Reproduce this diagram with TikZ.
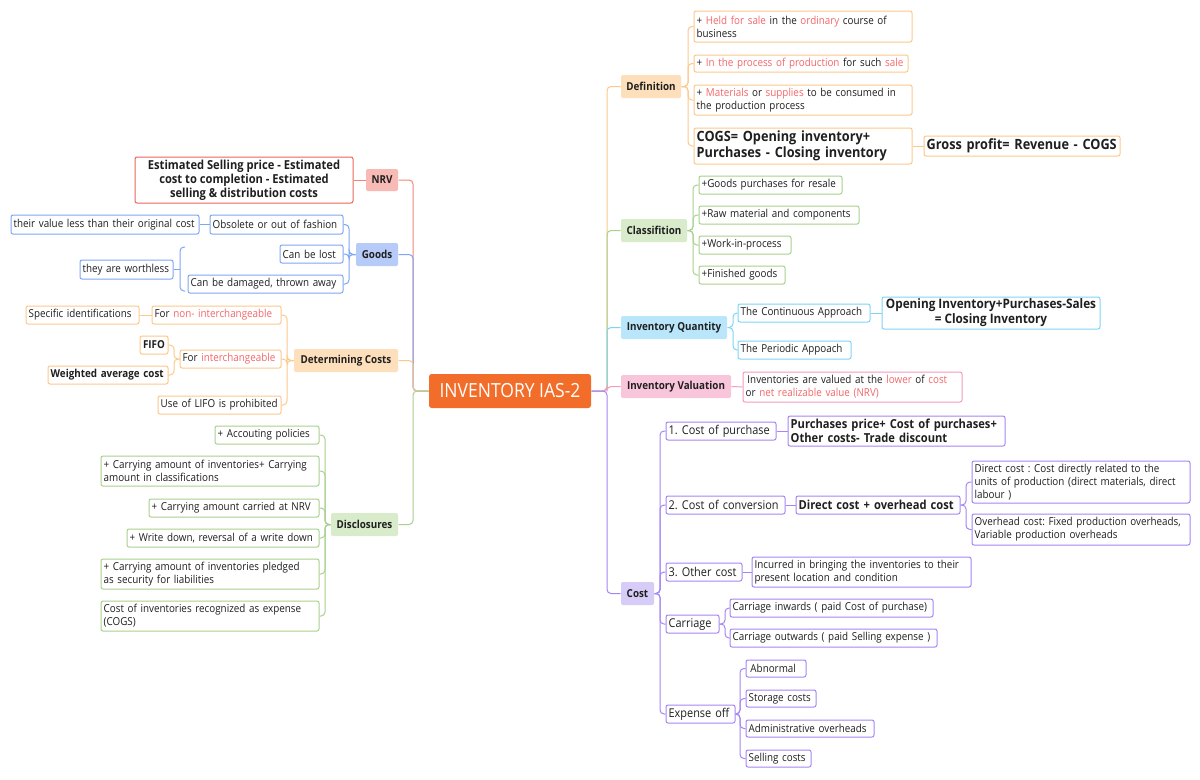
\documentclass[tikz,border=0pt]{standalone}
\usepackage{fontspec}
\setmainfont{Open Sans}[FakeStretch=0.9]
\usetikzlibrary{calc}
\definecolor{txt}{HTML}{1F1F1F}
\definecolor{hlred}{HTML}{F4676A}
\definecolor{ctrF}{HTML}{F26D29}
\definecolor{orL}{HTML}{FCC98C}
\definecolor{orF}{HTML}{FDDFBC}
\definecolor{grL}{HTML}{A9D18E}
\definecolor{grF}{HTML}{D8EBCB}
\definecolor{blL}{HTML}{7ED4F7}
\definecolor{blF}{HTML}{B9E6FA}
\definecolor{pkL}{HTML}{F59BC0}
\definecolor{pkF}{HTML}{F9C5DB}
\definecolor{puL}{HTML}{A686F5}
\definecolor{puF}{HTML}{D6CCF7}
\definecolor{nrL}{HTML}{F0877D}
\definecolor{nrF}{HTML}{F7BAB4}
\definecolor{nrB}{HTML}{E8675D}
\definecolor{goL}{HTML}{7EA6F6}
\definecolor{goF}{HTML}{B7CBF8}
\frenchspacing
\hyphenpenalty=10000
\exhyphenpenalty=10000
\newcommand\hl[1]{\textcolor{hlred}{#1}}
% left-aligned box given by pixel corners
\newcommand\mmn[7]{\node[#6, text width={\dimexpr(#4pt-#2pt)*3/4-4pt\relax}, minimum height={\dimexpr(#5pt-#3pt)*3/4\relax}] (#1) at ({(#2+#4)/2},{(#3+#5)/2}) {#7};}
% centred box given by pixel corners
\newcommand\mmc[7]{\node[#6, align=center, minimum width={\dimexpr(#4pt-#2pt)*3/4\relax}, minimum height={\dimexpr(#5pt-#3pt)*3/4\relax}] (#1) at ({(#2+#4)/2},{(#3+#5)/2}) {#7};}
\tikzset{
  x=0.75pt, y=-0.75pt,
  base/.style={rounded corners=1.5pt, inner xsep=2pt, inner ysep=0.5pt, text=txt, line width=0.75pt, align=left, font=\fontsize{8.2}{9.6}\selectfont},
  lf/.style={base, draw=#1},
  br/.style={base, fill=#1, font=\bfseries\fontsize{8.2}{9.6}\selectfont},
  md/.style={font=\fontsize{9.1}{11}\selectfont},
  bm/.style={font=\bfseries\fontsize{9.3}{10.6}\selectfont},
  bg/.style={font=\bfseries\fontsize{10.6}{12}\selectfont},
  bq/.style={font=\bfseries\fontsize{9.8}{11.2}\selectfont},
  sb/.style={font=\bfseries\fontsize{8.2}{9.6}\selectfont},
  ctrs/.style={base, fill=ctrF, text=white, rounded corners=2pt, font=\fontsize{14.6}{16}\selectfont},
  ln/.style={draw=#1, line width=0.75pt, rounded corners=3pt},
}
\begin{document}
\begin{tikzpicture}
\useasboundingbox[fill=white] (0,0) rectangle (1200,779);
% trunk coordinates
\coordinate (R) at (607,391);
\coordinate (L) at (413,391);
\coordinate (Td) at (688,0);
\coordinate (Tc) at (693,0);
\coordinate (Tq) at (733,0);
\coordinate (Tk) at (660,0);
\coordinate (Tk2) at (966,0);
\coordinate (Tk4) at (725,0);
\coordinate (Tk5) at (740,0);
\coordinate (Tg) at (349,0);
\coordinate (Tt) at (287,0);
\coordinate (Tt2) at (174,0);
\coordinate (Ts) at (325,0);

% centre
\mmc{ctr}{429}{374}{591}{408}{ctrs}{INVENTORY IAS-2}

% ---------- right side
\mmc{def}{621}{75}{681}{98}{br=orF}{Definition}
\mmn{d1}{694}{11}{912}{42}{lf=orL}{+ \hl{Held for sale} in the \hl{ordinary} course of\\business}
\mmn{d2}{694}{55}{908}{72}{lf=orL}{+ \hl{In the process of production} for such \hl{sale}}
\mmn{d3}{694}{85}{912}{115}{lf=orL}{+ \hl{Materials} or \hl{supplies} to be consumed in\\the production process}
\mmn{d4}{694}{128}{912}{164}{lf=orL, bg}{COGS= Opening inventory+\\Purchases - Closing inventory}
\mmn{d5}{924}{136}{1120}{156}{lf=orL, bg}{\mbox{Gross profit= Revenue - COGS}}

\mmc{cla}{621}{219}{687}{242}{br=grF}{Classifition}
\mmn{c1}{699}{176}{842}{194}{lf=grL}{+Goods purchases for resale}
\mmn{c2}{699}{206}{859}{224}{lf=grL}{+Raw material and components}
\mmn{c3}{699}{236}{791}{254}{lf=grL}{+Work-in-process}
\mmn{c4}{699}{266}{785}{284}{lf=grL}{+Finished goods}

\mmc{qty}{621}{316}{727}{339}{br=blF}{Inventory Quantity}
\mmn{q1}{738}{304}{870}{322}{lf=blL}{The Continuous Approach}
\mmc{q2}{882}{297}{1100}{329}{lf=blL, bq}{Opening Inventory+Purchases-Sales\\= Closing Inventory}
\mmn{q3}{738}{341}{851}{359}{lf=blL}{The Periodic Appoach}

\mmc{val}{621}{375}{731}{398}{br=pkF}{Inventory Valuation}
\mmn{v1}{743}{372}{962}{402}{lf=pkL}{\,Inventories are valued at the \hl{lower} of \hl{cost}\\or \hl{net realizable value (NRV)}}

\mmc{cost}{621}{582}{654}{605}{br=puF}{Cost}
\mmn{k1}{666}{422}{776}{440}{lf=puL, md}{\mbox{1. Cost of purchase}}
\mmn{k1a}{788}{416}{1005}{446}{lf=puL, bm}{Purchases price+ Cost of purchases+\\Other costs- Trade discount}
\mmn{k2}{666}{496}{785}{514}{lf=puL, md}{\mbox{2. Cost of conversion}}
\mmn{k2a}{796}{496}{960}{514}{lf=puL, bm}{\mbox{Direct cost + overhead cost}}
\mmn{k2b}{972}{461}{1190}{503}{lf=puL}{Direct cost : Cost directly related to the\\units of production (direct materials, direct\\labour )}
\mmn{k2c}{972}{514}{1190}{545}{lf=puL}{Overhead cost: Fixed production overheads,\\Variable production overheads}
\mmn{k3}{666}{563}{742}{581}{lf=puL, md}{\mbox{3. Other cost}}
\mmn{k3a}{752}{557}{971}{587}{lf=puL}{Incurred in bringing the inventories to their\\present location and condition}
\mmn{k4}{666}{615}{719}{633}{lf=puL, md}{\mbox{Carriage}}
\mmn{k4a}{730}{599}{933}{617}{lf=puL}{Carriage inwards ( paid Cost of purchase)}
\mmn{k4b}{730}{629}{937}{647}{lf=puL}{Carriage outwards ( paid Selling expense )}
\mmn{k5}{666}{705}{735}{723}{lf=puL, md}{\mbox{Expense off}}
\mmn{k5a}{746}{660}{806}{677}{lf=puL}{\,Abnormal}
\mmn{k5b}{746}{690}{816}{707}{lf=puL}{Storage costs}
\mmn{k5c}{746}{720}{874}{737}{lf=puL}{Administrative overheads}
\mmn{k5d}{746}{750}{811}{767}{lf=puL}{Selling costs}

% ---------- left side
\mmc{nrv}{366}{169}{398}{191}{br=nrF}{NRV}
\mmc{n1}{135}{157}{353}{203}{lf=nrB, bm}{Estimated Selling price - Estimated\\cost to completion - Estimated\\selling \& distribution costs}

\mmc{goods}{356}{243}{398}{266}{br=goF}{Goods}
\mmn{g1}{210}{215}{343}{234}{lf=goL}{Obsolete or out of fashion}
\mmn{g1a}{11}{215}{199}{234}{lf=goL}{their value less than their original cost}
\mmn{g2}{280}{245}{343}{263}{lf=goL}{Can be lost}
\mmn{g3}{188}{275}{343}{293}{lf=goL}{Can be damaged, thrown away}
\mmn{g4}{80}{260}{173}{279}{lf=goL}{\mbox{they are worthless}}

\mmc{det}{294}{349}{398}{372}{br=orF}{Determining Costs}
\mmn{t1}{152}{306}{281}{324}{lf=orL}{For \hl{non- interchangeable}}
\mmn{t1a}{26}{306}{139}{324}{lf=orL}{Specific identifications}
\mmn{t2}{180}{350}{281}{368}{lf=orL}{For \hl{interchangeable}}
\mmc{t2a}{140}{336}{168}{354}{lf=orL, sb}{FIFO}
\mmn{t2b}{48}{366}{168}{384}{lf=orL, sb}{\mbox{Weighted average cost}}
\mmn{t3}{158}{396}{281}{414}{lf=orL}{\mbox{Use of LIFO is prohibited}}

\mmc{dis}{331}{513}{398}{536}{br=grF}{Disclosures}
\mmn{s1}{215}{426}{319}{444}{lf=grL}{+ Accouting policies}
\mmn{s2}{101}{456}{319}{486}{lf=grL}{+ Carrying amount of inventories+ Carrying\\amount in classifications}
\mmn{s3}{149}{499}{319}{517}{lf=grL}{+ Carrying amount carried at NRV}
\mmn{s4}{127}{529}{319}{547}{lf=grL}{+ Write down, reversal of a write down}
\mmn{s5}{101}{559}{319}{589}{lf=grL}{+ Carrying amount of inventories pledged\\as security for liabilities}
\mmn{s6}{101}{601}{319}{631}{lf=grL}{Cost of inventories recognized as expense\\(COGS)}

% ---------- connectors: centre to branches
\draw[ln=orL] (ctr.east) -- (ctr.east -| R) |- (def.west);
\draw[ln=grL] (ctr.east) -- (ctr.east -| R) |- (cla.west);
\draw[ln=blL] (ctr.east) -- (ctr.east -| R) |- (qty.west);
\draw[ln=pkL] (ctr.east) -- (ctr.east -| R) |- (val.west);
\draw[ln=puL] (ctr.east) -- (ctr.east -| R) |- (cost.west);

\draw[ln=nrL] (ctr.west) -- (ctr.west -| L) |- (nrv.east);
\draw[ln=goL] (ctr.west) -- (ctr.west -| L) |- (goods.east);
\draw[ln=orL] (ctr.west) -- (ctr.west -| L) |- (det.east);
\draw[ln=grL] (ctr.west) -- (ctr.west -| L) |- (dis.east);

% Definition
\foreach \c in {d1,d2,d3,d4}
  \draw[ln=orL] (def.east) -- (def.east -| Td) |- (\c.west);
\draw[ln=orL] (d4.east) -- (d5.west);
% Classification
\foreach \c in {c1,c2,c3,c4}
  \draw[ln=grL] (cla.east) -- (cla.east -| Tc) |- (\c.west);
% Quantity
\foreach \c in {q1,q3}
  \draw[ln=blL] (qty.east) -- (qty.east -| Tq) |- (\c.west);
\draw[ln=blL] (q1.east) -- (q2.west);
% Valuation
\draw[ln=pkL] (val.east) -- (v1.west);
% Cost
\foreach \c in {k1,k2,k3,k4,k5}
  \draw[ln=puL] (cost.east) -- (cost.east -| Tk) |- (\c.west);
\draw[ln=puL] (k1.east) -- (k1a.west);
\draw[ln=puL] (k2.east) -- (k2a.west);
\foreach \c in {k2b,k2c}
  \draw[ln=puL] (k2a.east) -- (k2a.east -| Tk2) |- (\c.west);
\draw[ln=puL] (k3.east) -- (k3a.west);
\foreach \c in {k4a,k4b}
  \draw[ln=puL] (k4.east) -- (k4.east -| Tk4) |- (\c.west);
\foreach \c in {k5a,k5b,k5c,k5d}
  \draw[ln=puL] (k5.east) -- (k5.east -| Tk5) |- (\c.west);

% NRV
\draw[ln=nrL] (nrv.west) -- (n1.east);
% Goods
\foreach \c in {g1,g2,g3}
  \draw[ln=goL] (goods.west) -- (goods.west -| Tg) |- (\c.east);
\draw[ln=goL] (g1.west) -- (g1a.east);
\coordinate (bt) at (185,247);
\coordinate (bb) at (185,291);
\coordinate (bm) at (180,269.5);
\draw[ln=goL] (bt) -- (180,247) -- (180,291) -- (bb);
\draw[ln=goL] (g4.east) -- (bm);
% Determining
\foreach \c in {t1,t2,t3}
  \draw[ln=orL] (det.west) -- (det.west -| Tt) |- (\c.east);
\draw[ln=orL] (t1.west) -- (t1a.east);
\foreach \c in {t2a,t2b}
  \draw[ln=orL] (t2.west) -- (t2.west -| Tt2) |- (\c.east);
% Disclosures
\foreach \c in {s1,s2,s3,s4,s5,s6}
  \draw[ln=grL] (dis.west) -- (dis.west -| Ts) |- (\c.east);
\end{tikzpicture}
\end{document}
